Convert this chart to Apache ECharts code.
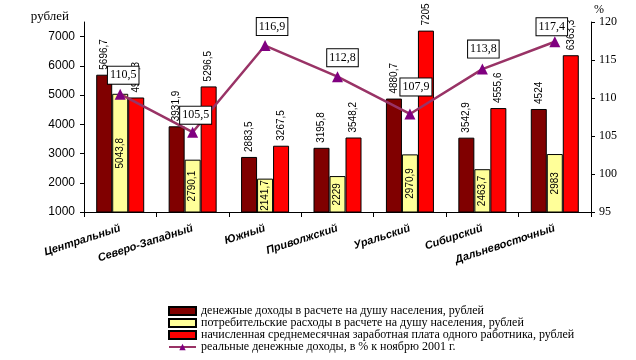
<!DOCTYPE html>
<html><head><meta charset="utf-8">
<script src="https://cdn.jsdelivr.net/npm/echarts@6/dist/echarts.min.js"></script>
<style>html,body{margin:0;padding:0;background:#fff}#c{width:636px;height:360px}</style>
</head><body><div id="c"></div>
<script>
const categories = ['Центральный', 'Северо-Западный', 'Южный', 'Приволжский', 'Уральский', 'Сибирский', 'Дальневосточный'];
const incomePerCapita = [5696.7, 3931.9, 2883.5, 3195.8, 4880.7, 3542.9, 4524];
const consumerSpending = [5043.8, 2790.1, 2141.7, 2229, 2970.9, 2463.7, 2983];
const averageWage = [4917.3, 5296.5, 3267.5, 3548.2, 7205, 4555.6, 6363.3];
const realIncomeIndex = [110.5, 105.5, 116.9, 112.8, 107.9, 113.8, 117.4];
const leftTicks = [1000, 2000, 3000, 4000, 5000, 6000, 7000];
const rightTicks = [95, 100, 105, 110, 115, 120];
const seriesNames = [
  'денежные доходы в расчете на душу населения, рублей',
  'потребительские расходы в расчете на душу населения, рублей',
  'начисленная среднемесячная заработная плата одного работника, рублей',
  'реальные денежные доходы, в % к ноябрю 2001 г.'
];
// label box offsets (style only)
const lineLabelOffsets = [[3, -19], [3, -17], [7, -19], [5, -19], [6, -27], [1, -20], [-3, -15]];

const fmt = v => String(v).replace('.', ',');
const serif = '"Liberation Serif", "Times New Roman", serif';
const sans = '"Liberation Sans", Arial, sans-serif';
const narrow = '"Liberation Sans Narrow", "Arial Narrow", sans-serif';

const topLabel = {
  show: true, position: 'top', rotate: 90, align: 'left', verticalAlign: 'middle',
  distance: 5, fontFamily: narrow, fontSize: 10, color: '#000',
  formatter: p => fmt(p.value)
};
const insideLabel = {
  show: true, position: 'inside', rotate: 90, align: 'center', verticalAlign: 'middle',
  fontFamily: narrow, fontSize: 10, color: '#000',
  formatter: p => fmt(p.value)
};
const barBorder = { borderColor: '#000', borderWidth: 1 };

const chart = echarts.init(document.getElementById('c'), null, { renderer: 'canvas' });
chart.setOption({
  animation: false,
  backgroundColor: '#fff',
  grid: { left: 84, right: 45, top: 22, bottom: 148, containLabel: false },
  legend: {
    orient: 'vertical', left: 168, top: 305, itemGap: 0, padding: 0,
    itemWidth: 27, itemHeight: 8,
    textStyle: { fontFamily: serif, fontSize: 12, lineHeight: 12, color: '#000' },
    data: [
      { name: seriesNames[0], icon: 'rect' },
      { name: seriesNames[1], icon: 'rect' },
      { name: seriesNames[2], icon: 'rect' },
      { name: seriesNames[3] }
    ]
  },
  xAxis: {
    type: 'category', data: categories, boundaryGap: true,
    axisLine: { lineStyle: { color: '#000', width: 1 } },
    axisTick: { show: true, alignWithLabel: false, length: 5, lineStyle: { color: '#000' } },
    axisLabel: {
      interval: 0, rotate: 18, margin: 16, color: '#000',
      fontFamily: sans, fontSize: 11, fontWeight: 'bold', fontStyle: 'italic'
    }
  },
  yAxis: [{
    type: 'value', min: 1000, max: 7500, interval: 1000,
    name: 'рублей', nameLocation: 'end', nameGap: 5,
    nameTextStyle: { fontFamily: serif, fontSize: 13, color: '#000', align: 'right', verticalAlign: 'middle', padding: [0, 15, 0, 0] },
    splitLine: { show: false },
    axisLine: { show: true, lineStyle: { color: '#000' } },
    axisTick: { show: true, length: 4, customValues: leftTicks, lineStyle: { color: '#000' } },
    axisLabel: { customValues: leftTicks, margin: 9, fontFamily: sans, fontSize: 12, color: '#000', formatter: v => String(v) }
  }, {
    type: 'value', min: 95, max: 120, interval: 5, position: 'right',
    name: '%', nameLocation: 'end', nameGap: 6,
    nameTextStyle: { fontFamily: serif, fontSize: 12, color: '#000', align: 'left', verticalAlign: 'middle', padding: [0, 0, 0, 3] },
    splitLine: { show: false },
    axisLine: { show: true, lineStyle: { color: '#000' } },
    axisTick: { show: true, length: 4, customValues: rightTicks, lineStyle: { color: '#000' } },
    axisLabel: { customValues: rightTicks, margin: 8, fontFamily: serif, fontSize: 12, color: '#000', formatter: v => String(v) }
  }],
  series: [{
    name: seriesNames[0], type: 'bar', data: incomePerCapita, barWidth: 16, barGap: '0%',
    itemStyle: Object.assign({ color: '#800000' }, barBorder), label: topLabel
  }, {
    name: seriesNames[1], type: 'bar', data: consumerSpending, barWidth: 16, barGap: '0%',
    itemStyle: Object.assign({ color: '#FFFF99' }, barBorder), label: insideLabel
  }, {
    name: seriesNames[2], type: 'bar', data: averageWage, barWidth: 16, barGap: '0%',
    itemStyle: Object.assign({ color: '#FF0000' }, barBorder), label: topLabel
  }, {
    name: seriesNames[3], type: 'line', yAxisIndex: 1, z: 5,
    data: realIncomeIndex.map((v, i) => ({ value: v, label: { offset: lineLabelOffsets[i] } })),
    symbol: 'triangle', symbolSize: 11,
    lineStyle: { color: '#993366', width: 2.5 },
    itemStyle: { color: '#800080' },
    label: {
      show: true, position: 'inside', fontFamily: serif, fontSize: 12, color: '#000',
      backgroundColor: '#fff', borderColor: '#000', borderWidth: 1, padding: [3, 2, 2, 2],
      formatter: p => fmt(p.value)
    }
  }]
});
</script></body></html>
